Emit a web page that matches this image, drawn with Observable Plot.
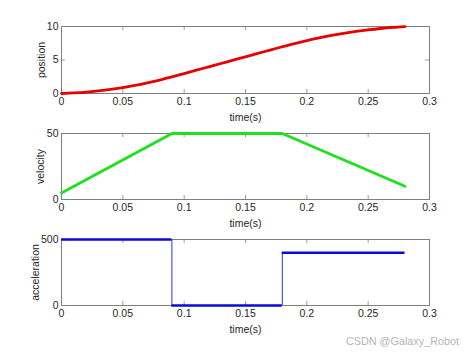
<!DOCTYPE html>
<html>
<head>
<meta charset="utf-8">
<script src="https://cdn.jsdelivr.net/npm/d3@7"></script>
<script src="https://cdn.jsdelivr.net/npm/@observablehq/plot@0.6"></script>
<style>
  html, body { margin: 0; padding: 0; background: #fff; }
  #wrap { position: relative; width: 474px; height: 355px; overflow: hidden; background: #fff; }
  #wrap svg { position: absolute; left: 0; overflow: visible; }
  #mark { position: absolute; left: 346px; top: 335px; font: 10.8px "Liberation Sans", Arial, sans-serif; line-height: 13px; color: #b4b4b4; white-space: nowrap; z-index: 2; }
</style>
</head>
<body>
<div id="wrap"><div id="mark">CSDN @Galaxy_Robot</div></div>
<script>
// ---- data ----
const xTicks = [0, 0.05, 0.1, 0.15, 0.2, 0.25, 0.3];
const xTickLabels = ["0", "0.05", "0.1", "0.15", "0.2", "0.25", "0.3"];

const posTicks = [0, 5, 10];
const velTicks = [0, 50];
const accTicks = [0, 500];

const posTime  = [0, 0.01, 0.02, 0.03, 0.04, 0.05, 0.06, 0.07, 0.08, 0.09, 0.10, 0.11, 0.12, 0.13, 0.14,
                  0.15, 0.16, 0.17, 0.18, 0.19, 0.20, 0.21, 0.22, 0.23, 0.24, 0.25, 0.26, 0.27, 0.28];
const posValue = [0, 0.08, 0.2, 0.38, 0.6, 0.88, 1.2, 1.58, 2.0, 2.48, 2.98, 3.48, 3.98, 4.48, 4.98,
                  5.48, 5.98, 6.48, 6.98, 7.46, 7.9, 8.3, 8.66, 8.98, 9.26, 9.5, 9.7, 9.86, 9.98];

const velTime  = [0, 0.09, 0.18, 0.28];
const velValue = [5, 50, 50, 10];

const accStart = [0, 0.09, 0.18];
const accEnd   = [0.09, 0.18, 0.28];
const accValue = [500, 0, 400];

// ---- build tables ----
const pos = posTime.map((t, i) => ({t, v: posValue[i]}));
const vel = velTime.map((t, i) => ({t, v: velValue[i]}));
const acc = accStart.map((t, i) => ({t1: t, t2: accEnd[i], v: accValue[i]}));
const accJumps = acc.slice(1).map((d, i) => ({t: d.t1, v1: acc[i].v, v2: d.v}));

const W = 474, ML = 61, MR = 45;
const axisGray = "#7f7f7f";

function subplot({top, height, marginTop, marginBottom, yDomain, yTicks, yLabel, yLabelOffset, marks}) {
  const fh = height - marginTop - marginBottom;
  const fw = W - ML - MR;
  const svg = Plot.plot({
    width: W, height, marginLeft: ML, marginRight: MR, marginTop, marginBottom,
    style: {fontFamily: "'Liberation Sans', Arial, sans-serif", fontSize: "10.5px", color: "#262626", background: "transparent", overflow: "visible"},
    x: {domain: [0, 0.3]},
    y: {domain: yDomain},
    marks: [
      Plot.frame({stroke: axisGray, strokeWidth: 1}),
      Plot.axisX({ticks: xTicks, tickFormat: d => xTickLabels[xTicks.indexOf(d)], tickSize: 0, tickPadding: 4,
                  label: "time(s)", labelAnchor: "center", labelOffset: 27, labelArrow: "none"}),
      Plot.axisY({ticks: yTicks, tickSize: 0, tickPadding: 3,
                  label: yLabel, labelAnchor: "center", labelOffset: yLabelOffset, labelArrow: "none"}),
      Plot.ruleX(xTicks, {x: d => d, insetTop: fh - 4, stroke: axisGray, strokeWidth: 0.8}),
      Plot.ruleX(xTicks, {x: d => d, insetBottom: fh - 4, stroke: axisGray, strokeWidth: 0.8}),
      Plot.ruleY(yTicks, {y: d => d, insetRight: fw - 4, stroke: axisGray, strokeWidth: 0.8}),
      Plot.ruleY(yTicks, {y: d => d, insetLeft: fw - 4, stroke: axisGray, strokeWidth: 0.8}),
      ...marks
    ]
  });
  svg.style.top = top + "px";
  document.getElementById("wrap").appendChild(svg);
}

subplot({
  top: 0, height: 120, marginTop: 26, marginBottom: 27,
  yDomain: [0, 10], yTicks: posTicks, yLabel: "position", yLabelOffset: 24,
  marks: [Plot.line(pos, {x: "t", y: "v", stroke: "#e60000", strokeWidth: 2.8, curve: "monotone-x"})]
});

subplot({
  top: 120, height: 106, marginTop: 13, marginBottom: 27,
  yDomain: [0, 50], yTicks: velTicks, yLabel: "velocity", yLabelOffset: 25,
  marks: [Plot.line(vel, {x: "t", y: "v", stroke: "#1ee01e", strokeWidth: 2.8})]
});

subplot({
  top: 226, height: 129, marginTop: 13, marginBottom: 50,
  yDomain: [0, 500], yTicks: accTicks, yLabel: "acceleration", yLabelOffset: 30,
  marks: [
    Plot.ruleX(accJumps, {x: "t", y1: "v1", y2: "v2", stroke: "#2a2aff", strokeWidth: 1}),
    Plot.ruleY(acc, {x1: "t1", x2: "t2", y: "v", stroke: "#0a0ad6", strokeWidth: 2.6})
  ]
});
</script>
</body>
</html>
